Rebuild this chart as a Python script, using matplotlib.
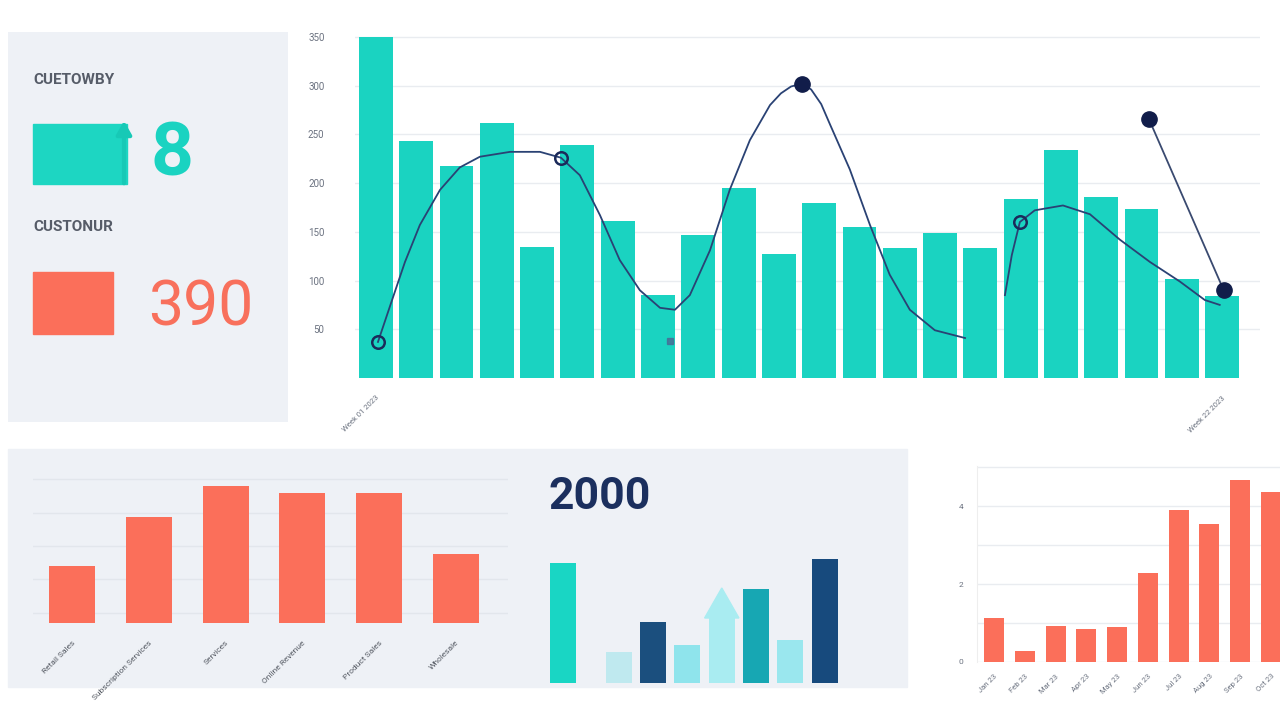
import numpy as np
import matplotlib
matplotlib.use("Agg")
import matplotlib.pyplot as plt
from matplotlib.patches import Rectangle

plt.rcParams['font.family'] = ['Roboto', 'DejaVu Sans']

# ---- data ----
kpi_labels = ["CUETOWBY", "CUSTONUR"]
kpi_values = ["8", "390"]

# main chart: 22 teal bars
main_bars = [350, 243, 217, 262, 134, 239, 161, 85, 147, 195, 127,
             180, 155, 133, 149, 133, 184, 234, 186, 173, 102, 84]
main_ticks = [50, 100, 150, 200, 250, 300, 350]
main_xlabels = ["Week 01 2023", "Week 22 2023"]

# trend line pieces (position along bars, value)
trend1_x = [0.05, 0.40, 0.72, 1.09, 1.59, 2.08, 2.58, 3.33, 4.07, 4.59, 5.06, 5.56,
            6.05, 6.55, 7.05, 7.42, 7.79, 8.29, 8.78, 9.28, 9.78, 10.05, 10.30,
            10.57, 10.80, 11.05, 11.27, 11.76, 12.26, 12.75, 13.25, 13.87, 14.62]
trend1_y = [37, 80, 119, 157, 193, 216, 227, 232, 232, 226, 208, 167,
            121, 90, 72, 70, 85, 131, 193, 244, 280, 292, 299,
            302, 296, 281, 260, 214, 157, 106, 70, 49, 41]
trend2_x = [15.61, 15.78, 15.98, 16.35, 17.05, 17.72, 18.46, 19.21, 19.95, 20.57, 20.94]
trend2_y = [85, 126, 160, 172, 177, 168, 142, 119, 99, 80, 75]
trend3_x = [19.18, 21.04]
trend3_y = [266, 90]
hollow_x = [0.05, 4.59, 15.98]
hollow_y = [37, 226, 160]
dot_x = [10.57, 19.18, 21.04]
dot_y = [302, 266, 90]

# bottom-left coral bars
bl_labels = ["Retail Sales", "Subscription Services", "Services",
             "Online Revenue", "Product Sales", "Wholesale"]
bl_values = [17, 31.6, 40.9, 38.8, 38.8, 20.6]

# bottom-middle bars
mid_title = "2000"
mid_values = [120, 31, 61, 38, 65, 94, 43, 124]
mid_colors = ['#19d6c4', '#bfe9ef', '#1b4f7e', '#8fe4ec',
              '#a9ecf1', '#17a7b3', '#9ae7ee', '#174a7d']

# bottom-right coral bars
br_labels = ["Jan 23", "Feb 23", "Mar 23", "Apr 23", "May 23",
             "Jun 23", "Jul 23", "Aug 23", "Sep 23", "Oct 23"]
br_values = [1.13, 0.28, 0.92, 0.85, 0.90, 2.28, 3.90, 3.54, 4.67, 4.36]

TEAL = '#1ad3c1'
CORAL = '#fb6f5a'
NAVY = '#1b2a5a'
PANEL = '#eef1f6'
GRID = '#e9ecf0'
TICK = '#6b7280'

fig = plt.figure(figsize=(12.8, 7.2), dpi=100, facecolor='white')


def fax(x0, y0, x1, y1):
    # axes from pixel box (top-left origin)
    return fig.add_axes([x0 / 1280, 1 - y1 / 720, (x1 - x0) / 1280, (y1 - y0) / 720])


def clean(ax):
    for s in ax.spines.values():
        s.set_visible(False)


# ---- background panels ----
fig.add_artist(Rectangle((8 / 1280, 1 - 687 / 720), 899 / 1280, 238 / 720,
                         transform=fig.transFigure, color=PANEL, zorder=0))

# ---- KPI panel ----
kp = fax(8, 32, 288, 422)
kp.set_facecolor(PANEL)
clean(kp)
kp.set_xticks([])
kp.set_yticks([])
kp.set_xlim(0, 280)
kp.set_ylim(390, 0)
kp.text(25, 48, kpi_labels[0], fontsize=11, fontweight='bold', color='#565c68', va='center')
kp.add_patch(Rectangle((25, 92), 94, 60, color='#1dd6c2'))
kp.annotate('', xy=(116, 86), xytext=(116, 154),
            arrowprops=dict(arrowstyle='-|>,head_width=0.45,head_length=0.8',
                            color='#17c9b6', lw=3))
kp.text(143, 124, kpi_values[0], fontsize=54, fontweight='bold', color=TEAL, va='center')
kp.text(25, 195, kpi_labels[1], fontsize=11, fontweight='bold', color='#565c68', va='center')
kp.add_patch(Rectangle((25, 240), 80, 62, color=CORAL))
kp.text(140, 276, kpi_values[1], fontsize=45, color='#f8705c', va='center')

# ---- main chart ----
ax = fax(355, 30, 1260, 378)
clean(ax)
xs = np.arange(len(main_bars))
ax.bar(xs, main_bars, width=0.84, color=TEAL, zorder=2)
ax.set_xlim(-0.52, 21.94)
ax.set_ylim(0, 357)
ax.set_yticks(main_ticks)
ax.yaxis.grid(True, color=GRID, lw=1)
ax.set_axisbelow(True)
ax.tick_params(axis='y', length=0, pad=22, labelsize=7, labelcolor=TICK)
ax.set_xticks([0, len(main_bars) - 1])
ax.set_xticklabels(main_xlabels, rotation=45, ha='right', rotation_mode='anchor',
                   fontsize=5.5, color=TICK)
ax.tick_params(axis='x', length=0, pad=12)
ax.plot(trend1_x, trend1_y, color='#2a4274', lw=1.3, zorder=3)
ax.plot(trend2_x, trend2_y, color='#2a4274', lw=1.3, zorder=3)
ax.plot(trend3_x, trend3_y, color='#3a4a70', lw=1.3, zorder=3)
ax.plot(hollow_x, hollow_y, 'o', ms=9, mfc='none', mec=NAVY, mew=1.8, zorder=4)
ax.plot(dot_x, dot_y, 'o', ms=11, color='#111d4a', zorder=4)
ax.plot([7.3], [38], 's', ms=5, color='#4a6a95', alpha=0.8, zorder=4)

# ---- bottom-left chart ----
bl = fax(33, 470, 508, 623)
bl.patch.set_alpha(0)
clean(bl)
bl.bar(np.arange(len(bl_values)), bl_values, width=0.6, color=CORAL, zorder=2)
bl.set_xlim(-0.51, 5.68)
bl.set_ylim(0, 45.7)
bl.set_yticks(np.arange(3, 45, 10))
bl.set_yticklabels([])
bl.yaxis.grid(True, color='#e2e6ec', lw=1)
bl.set_axisbelow(True)
bl.tick_params(axis='y', length=0)
bl.set_xticks(np.arange(len(bl_values)))
bl.set_xticklabels(bl_labels, rotation=45, ha='right', rotation_mode='anchor',
                   fontsize=6, color='#555a63')
bl.tick_params(axis='x', length=0, pad=12)

# ---- bottom-middle chart ----
fig.text(548 / 1280, 1 - 497 / 720, mid_title, fontsize=32, fontweight='bold',
         color='#1b2f5e', va='center', ha='left')
md = fax(545, 540, 845, 683)
md.patch.set_alpha(0)
clean(md)
mx = np.arange(len(mid_values)) + (np.arange(len(mid_values)) > 0) * 0.63
md.bar(mx, mid_values, width=0.76, color=mid_colors)
md.fill([mx[4] - 0.5, mx[4], mx[4] + 0.5],
        [mid_values[4], mid_values[4] + 30, mid_values[4]], color=mid_colors[4])
md.set_xlim(-0.52, 8.22)
md.set_ylim(0, 143)
md.set_xticks([])
md.set_yticks([])

# ---- bottom-right chart ----
br = fax(977, 466, 1280, 662)
clean(br)
br.spines['left'].set_visible(True)
br.spines['left'].set_color('#eeeeee')
bx = np.arange(len(br_values))
br.bar(bx, br_values, width=0.65, color=CORAL, zorder=2)
br.set_xlim(-0.55, 9.29)
br.set_ylim(0, 5.03)
br.set_yticks([0, 1, 2, 3, 4, 5])
br.set_yticklabels(['0', '', '2', '', '4', ''])
br.yaxis.grid(True, color=GRID, lw=1)
br.set_axisbelow(True)
br.tick_params(axis='y', length=0, pad=10, labelsize=6, labelcolor=TICK)
br.set_xticks(bx)
br.set_xticklabels(br_labels, rotation=45, ha='right', rotation_mode='anchor',
                   fontsize=5.5, color=TICK)
br.tick_params(axis='x', length=0, pad=8)

fig.savefig('out.png', dpi=100, facecolor='white')
